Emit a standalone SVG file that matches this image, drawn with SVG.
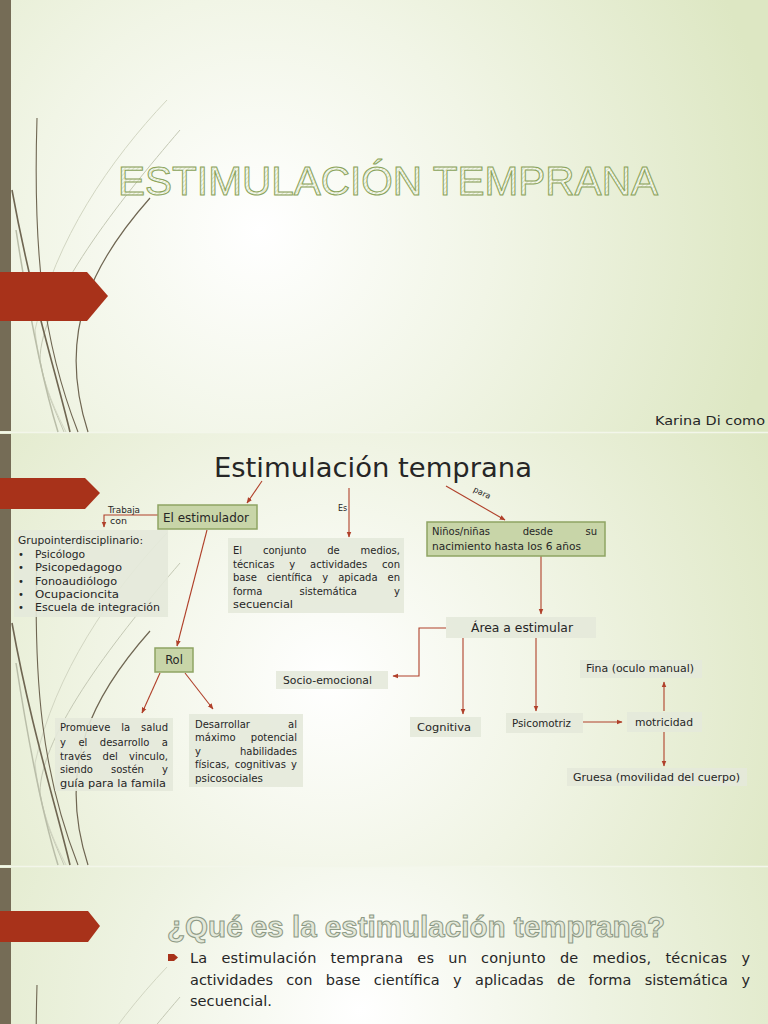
<svg xmlns="http://www.w3.org/2000/svg" xmlns:xlink="http://www.w3.org/1999/xlink" width="768" height="1024" viewBox="0 0 768 1024">
<defs>
<radialGradient id="bg1" cx="260" cy="230" r="520" gradientUnits="userSpaceOnUse">
<stop offset="0" stop-color="#ffffff"/><stop offset="0.45" stop-color="#f1f5e6"/><stop offset="1" stop-color="#dde7c3"/>
</radialGradient>
<radialGradient id="bg2" cx="330" cy="680" r="520" gradientUnits="userSpaceOnUse">
<stop offset="0" stop-color="#ffffff"/><stop offset="0.45" stop-color="#f0f4e4"/><stop offset="1" stop-color="#dce6c1"/>
</radialGradient>
<radialGradient id="bg3" cx="360" cy="1010" r="520" gradientUnits="userSpaceOnUse">
<stop offset="0" stop-color="#ffffff"/><stop offset="0.45" stop-color="#eef3e2"/><stop offset="1" stop-color="#dce6c1"/>
</radialGradient>
<pattern id="hatch" width="3" height="3" patternUnits="userSpaceOnUse" patternTransform="rotate(45)">
<rect width="3" height="3" fill="#f4f7ec"/><line x1="0" y1="0" x2="0" y2="3" stroke="#c3cfa4" stroke-width="1"/>
</pattern>
<marker id="ah" viewBox="0 0 10 10" refX="9" refY="5" markerWidth="6" markerHeight="6" markerUnits="userSpaceOnUse" orient="auto">
<path d="M0,1 L10,5 L0,9 z" fill="#b0402a"/>
</marker>
<g id="deco">
<path d="M180,130 C120,200 40,300 40,360 C45,390 55,410 64,432" fill="none" stroke="#c4c8b4" stroke-width="1"/>
<path d="M167,100 C110,160 55,240 35,330 C40,380 55,410 66,432" fill="none" stroke="#d2d6c2" stroke-width="1"/>
<path d="M37,118 C33,250 42,340 78,432" fill="none" stroke="#6f6652" stroke-width="1.1"/>
<path d="M12,190 C30,290 55,370 70,432" fill="none" stroke="#6f6652" stroke-width="1.6"/>
<path d="M150,198 C95,260 55,330 88,432" fill="none" stroke="#6f6652" stroke-width="1.2"/>
<path d="M16,230 C30,320 45,390 58,432" fill="none" stroke="#b9bda8" stroke-width="1.5"/>
</g>
</defs>
<style>
.box-g{fill:#c8d5a8;stroke:#8fa463;stroke-width:1.5}
.box-l{fill:#e4e9da;fill-opacity:0.9}
.t{font-family:"DejaVu Sans","Liberation Sans",sans-serif;fill:#262626}
.c{fill:none;stroke:#b0402a;stroke-width:1.1;marker-end:url(#ah)}
.red{fill:#a8321a}
</style>

<!-- backgrounds -->
<rect x="0" y="0" width="768" height="432" fill="url(#bg1)"/>
<rect x="0" y="433" width="768" height="433" fill="url(#bg2)"/>
<rect x="0" y="867" width="768" height="157" fill="url(#bg3)"/>
<line x1="0" y1="432.5" x2="768" y2="432.5" stroke="#f3f6ea" stroke-width="1.5"/>
<line x1="0" y1="866.5" x2="768" y2="866.5" stroke="#f3f6ea" stroke-width="1.5"/>

<!-- decorations -->
<use xlink:href="#deco"/>
<use xlink:href="#deco" y="433"/>
<use xlink:href="#deco" y="867"/>
<rect x="0" y="0" width="11" height="431" fill="#756c56"/>
<rect x="0" y="434" width="11" height="431" fill="#756c56"/>
<rect x="0" y="868" width="11" height="156" fill="#756c56"/>
<path class="red" d="M0,272 L87,272 L108,296 L87,321 L0,321 z"/>
<path class="red" d="M0,478 L85,478 L100,493 L85,509 L0,509 z"/>
<path class="red" d="M0,911 L88,911 L100,926 L88,942 L0,942 z"/>

<!-- slide 1 -->
<g id="slide1-title">
<text x="118" y="195" font-family="Liberation Sans, sans-serif" font-size="40" fill="url(#hatch)" stroke="#8aa35a" stroke-width="1" textLength="540" lengthAdjust="spacingAndGlyphs">ESTIMULACIÓN TEMPRANA</text>
</g>
<text class="t" x="655" y="425" font-size="12.5" textLength="110" lengthAdjust="spacingAndGlyphs">Karina Di como</text>

<!-- slide 2 title -->
<g id="title2">
<text class="t" x="214" y="477" font-size="27" fill="#3a3a3a" textLength="318" lengthAdjust="spacingAndGlyphs">Estimulación temprana</text>
</g>

<!-- connectors -->
<g id="connectors">
<path class="c" d="M262,481 L247,503"/>
<path class="c" d="M158,515 L104,515 L104,527"/>
<path class="c" d="M349,488 L349,537"/>
<path class="c" d="M446,486 L505,520"/>
<path class="c" d="M207,530 L177,646"/>
<path class="c" d="M160,673 L142,713"/>
<path class="c" d="M185,673 L213,709"/>
<path class="c" d="M541,556 L541,614"/>
<path class="c" d="M446,628 L419,628 L419,676 L393,676"/>
<path class="c" d="M463,638 L463,714"/>
<path class="c" d="M536,638 L536,711"/>
<path class="c" d="M583,722 L622,722"/>
<path class="c" d="M664,711 L664,682"/>
<path class="c" d="M664,732 L664,766"/>
<text class="t" x="108" y="513" font-size="8" textLength="32" lengthAdjust="spacingAndGlyphs">Trabaja</text>
<text class="t" x="110" y="524" font-size="8" textLength="17" lengthAdjust="spacingAndGlyphs">con</text>
<text class="t" x="338" y="511" font-size="8">Es</text>
<text class="t" x="471" y="495" font-size="8" transform="rotate(26 480 497)">para</text>
</g>

<g id="n-estimulador">
<rect class="box-g" x="158" y="505" width="99" height="24"/>
<text class="t" x="163" y="521.5" font-size="12.5" textLength="86" lengthAdjust="spacingAndGlyphs">El estimulador</text>
</g>

<g id="n-grupo">
<rect class="box-l" x="14" y="530" width="154" height="87"/>
<g class="t" font-size="10">
<text x="18" y="544" textLength="125" lengthAdjust="spacingAndGlyphs">Grupointerdisciplinario:</text>
<text x="18" y="557.5">•</text><text x="35" y="557.5" textLength="50" lengthAdjust="spacingAndGlyphs">Psicólogo</text>
<text x="18" y="571">•</text><text x="35" y="571" textLength="87" lengthAdjust="spacingAndGlyphs">Psicopedagogo</text>
<text x="18" y="584.5">•</text><text x="35" y="584.5" textLength="82" lengthAdjust="spacingAndGlyphs">Fonoaudiólogo</text>
<text x="18" y="598">•</text><text x="35" y="598" textLength="84" lengthAdjust="spacingAndGlyphs">Ocupacioncita</text>
<text x="18" y="611">•</text><text x="35" y="611" textLength="125" lengthAdjust="spacingAndGlyphs">Escuela de integración</text>
</g>
</g>

<g id="n-conjunto">
<rect class="box-l" x="228" y="538" width="176" height="75"/>
<g class="t" font-size="10">
<text x="233" y="554" word-spacing="17.7" textLength="167" lengthAdjust="spacing">El conjunto de medios,</text>
<text x="233" y="568" word-spacing="11.7" textLength="167" lengthAdjust="spacing">técnicas y actividades con</text>
<text x="233" y="581" word-spacing="6.8" textLength="167" lengthAdjust="spacing">base científica y apicada en</text>
<text x="233" y="595" word-spacing="34" textLength="167" lengthAdjust="spacing">forma sistemática y</text>
<text x="233" y="608" textLength="60" lengthAdjust="spacingAndGlyphs">secuencial</text>
</g>
</g>

<g id="n-ninos">
<rect class="box-g" x="427" y="522" width="178" height="34"/>
<g class="t" font-size="10">
<text x="432" y="535" word-spacing="29.5" textLength="165" lengthAdjust="spacing">Niños/niñas desde su</text>
<text x="432" y="550" textLength="149" lengthAdjust="spacingAndGlyphs">nacimiento hasta los 6 años</text>
</g>
</g>

<g id="n-area">
<rect class="box-l" x="446" y="617" width="150" height="21"/>
<text class="t" x="471" y="632" font-size="11.5" textLength="102" lengthAdjust="spacingAndGlyphs">Área a estimular</text>
</g>

<g id="n-rol">
<rect class="box-g" x="155" y="648" width="38" height="24"/>
<text class="t" x="174" y="664" font-size="11.5" text-anchor="middle">Rol</text>
</g>

<g id="n-promueve">
<rect class="box-l" x="55" y="718" width="118" height="73"/>
<g class="t" font-size="10">
<text x="60" y="731" word-spacing="7.7" textLength="108" lengthAdjust="spacing">Promueve la salud</text>
<text x="60" y="746" word-spacing="9.3" textLength="108" lengthAdjust="spacing">y el desarrollo a</text>
<text x="60" y="760" word-spacing="8" textLength="108" lengthAdjust="spacing">través del vinculo,</text>
<text x="60" y="773" word-spacing="15" textLength="108" lengthAdjust="spacing">siendo sostén y</text>
<text x="60" y="787" textLength="106" lengthAdjust="spacingAndGlyphs">guía para la famila</text>
</g>
</g>

<g id="n-desarrollar">
<rect class="box-l" x="189" y="714" width="114" height="73"/>
<g class="t" font-size="10">
<text x="195" y="728" word-spacing="35" textLength="102" lengthAdjust="spacing">Desarrollar al</text>
<text x="195" y="741" word-spacing="12" textLength="102" lengthAdjust="spacing">máximo potencial</text>
<text x="195" y="755" word-spacing="36" textLength="102" lengthAdjust="spacing">y habilidades</text>
<text x="195" y="768" word-spacing="2" textLength="102" lengthAdjust="spacing">físicas, cognitivas y</text>
<text x="195" y="782" textLength="68" lengthAdjust="spacingAndGlyphs">psicosociales</text>
</g>
</g>

<g id="n-socio">
<rect class="box-l" x="276" y="671" width="112" height="18"/>
<text class="t" x="283" y="684" font-size="10" textLength="89" lengthAdjust="spacingAndGlyphs">Socio-emocional</text>
</g>

<g id="n-cognitiva">
<rect class="box-l" x="410" y="717" width="71" height="20"/>
<text class="t" x="417" y="731" font-size="10" textLength="54" lengthAdjust="spacingAndGlyphs">Cognitiva</text>
</g>

<g id="n-psicomotriz">
<rect class="box-l" x="506" y="713" width="77" height="20"/>
<text class="t" x="512" y="727" font-size="10" textLength="59" lengthAdjust="spacingAndGlyphs">Psicomotriz</text>
</g>

<g id="n-motricidad">
<rect class="box-l" x="627" y="712" width="75" height="20"/>
<text class="t" x="635" y="726" font-size="10" textLength="58" lengthAdjust="spacingAndGlyphs">motricidad</text>
</g>

<g id="n-fina">
<rect class="box-l" x="580" y="660" width="122" height="18"/>
<text class="t" x="586" y="672" font-size="10" textLength="108" lengthAdjust="spacingAndGlyphs">Fina (oculo manual)</text>
</g>

<g id="n-gruesa">
<rect class="box-l" x="567" y="768" width="180" height="18"/>
<text class="t" x="573" y="781" font-size="10" textLength="167" lengthAdjust="spacingAndGlyphs">Gruesa (movilidad del cuerpo)</text>
</g>

<!-- slide 3 -->
<g id="slide3-title">
<text x="167" y="937" font-family="Liberation Sans, sans-serif" font-weight="bold" font-size="29" fill="#e4e9da" stroke="#8d9985" stroke-width="1" textLength="498" lengthAdjust="spacingAndGlyphs">¿Qué es la estimulación temprana?</text>
</g>
<path d="M168,954 L174,954 L178,957.5 L174,961 L168,961 z" fill="#a8321a"/>
<g class="t" font-size="14.5" fill="#3a3a3a">
<text x="190" y="963" word-spacing="9.2" textLength="560" lengthAdjust="spacing">La estimulación temprana es un conjunto de medios, técnicas y</text>
<text x="190" y="985" word-spacing="8.8" textLength="560" lengthAdjust="spacing">actividades con base científica y aplicadas de forma sistemática y</text>
<text x="190" y="1006" textLength="82" lengthAdjust="spacingAndGlyphs">secuencial.</text>
</g>
</svg>
